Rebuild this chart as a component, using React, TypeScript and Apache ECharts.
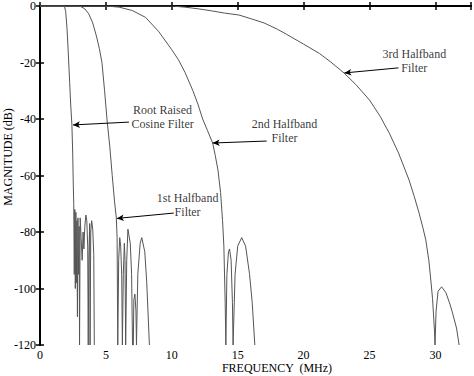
import React, { useEffect, useRef } from 'react';
import * as echarts from 'echarts';

// Root raised cosine filter
const rrcFreq = [0, 1.85, 1.95, 2.05, 2.15, 2.25, 2.33, 2.42, 2.48, 2.52, 2.56, 2.6, 2.64, 2.68, 2.72, 2.76, 2.8, 2.84, 2.88, 2.93, 2.97, 3.0, 3.05, 3.12, 3.2, 3.27, 3.33, 3.4, 3.48, 3.55, 3.62, 3.66, 3.7, 3.77, 3.8, 3.85, 3.92, 4.0, 4.08, 4.12];
const rrcMag = [0, 0, -2, -8, -17, -27, -35, -42, -52, -62, -70, -95, -72, -100, -73, -98, -76, -110, -75, -95, -78, -120, -75, -82, -90, -80, -86, -78, -74, -76, -85, -120, -90, -77, -120, -80, -76, -79, -88, -120];

// 1st halfband filter
const hb1Freq = [0, 2.8, 3.1, 3.4, 3.7, 4.0, 4.3, 4.5, 4.7, 4.9, 5.08, 5.3, 5.48, 5.65, 5.79, 5.85, 5.9, 5.92, 5.97, 6.05, 6.12, 6.2, 6.25, 6.27, 6.32, 6.4, 6.45, 6.5, 6.52, 6.58, 6.67, 6.85, 6.95, 7.02, 7.08, 7.12, 7.2, 7.28, 7.32, 7.35, 7.42, 7.6, 7.72, 7.95, 8.1, 8.3];
const hb1Mag = [0, 0, -0.2, -1, -2.8, -6, -11, -15, -20, -30, -40, -50, -60, -69, -75, -82, -120, -120, -90, -82, -85, -95, -120, -120, -95, -84, -90, -120, -120, -90, -79, -84, -95, -120, -120, -104, -102, -108, -120, -120, -95, -84, -82, -87, -98, -120];

// 2nd halfband filter
const hb2Freq = [0, 5.0, 6, 7, 8, 9, 10, 10.5, 11, 11.6, 12, 12.34, 12.7, 13.1, 13.3, 13.5, 13.7, 13.85, 13.95, 14.05, 14.1, 14.12, 14.18, 14.3, 14.38, 14.5, 14.6, 14.65, 14.68, 14.8, 15.0, 15.3, 15.6, 15.9, 16.1, 16.3];
const hb2Mag = [0, 0, -0.4, -1.6, -4, -9, -15.5, -19, -23.5, -30, -35, -40, -44, -48.5, -53, -58, -66, -76, -85, -105, -120, -120, -95, -87, -86, -90, -105, -120, -120, -95, -85, -82, -85, -95, -105, -120];

// 3rd halfband filter
const hb3Freq = [0, 10, 11, 12, 13, 14, 15.1, 16, 17, 18, 18.7, 20, 21.2, 22, 23.09, 24, 25, 25.8, 26.5, 27.2, 28, 28.4, 28.76, 29.05, 29.27, 29.5, 29.65, 29.78, 29.85, 29.93, 29.97, 30.0, 30.05, 30.2, 30.47, 30.8, 31.1, 31.3, 31.6, 31.8];
const hb3Mag = [0, 0, -0.4, -1, -1.7, -2.5, -3.2, -4.5, -6, -8.2, -10, -13.5, -16.8, -19.6, -23.8, -28, -33.3, -39, -45, -52, -61.6, -67.5, -73.3, -78.5, -82.8, -90, -97, -103.5, -108.7, -115, -120, -120, -108, -101, -99.4, -101.5, -105.5, -108.7, -114, -120];

// Annotations (data coordinates)
const noteTexts = ['Root Raised\nCosine Filter', '1st Halfband\nFilter', '2nd Halfband\nFilter', '3rd Halfband\nFilter'];
const noteX = [9.3, 11.2, 18.55, 28.4];
const noteY = [-39.3, -70.4, -44.3, -19.6];
const arrowFromX = [6.75, 10.15, 17.2, 27.2];
const arrowFromY = [-41.1, -73.3, -47.8, -21.9];
const arrowToX = [2.5, 5.83, 13.1, 23.09];
const arrowToY = [-42.1, -75.2, -48.5, -23.7];

const xTicks = [0, 5, 10, 15, 20, 25, 30];

const pairs = (xs: number[], ys: number[]) => xs.map((x, i) => [x, ys[i]]);

const FONT = '"Liberation Serif", "DejaVu Serif", serif';

export default function App() {
  const ref = useRef<HTMLDivElement>(null);
  useEffect(() => {
    if (!ref.current) return;
    const chart = echarts.init(ref.current, undefined, { renderer: 'svg' });
    const lineColor = '#555';
    const mkLine = (name: string, xs: number[], ys: number[]) => ({
      name,
      type: 'line',
      data: pairs(xs, ys),
      showSymbol: false,
      symbol: 'none',
      lineStyle: { color: lineColor, width: 1 },
      silent: true,
      z: 3,
    });
    const axisLine = { show: true, lineStyle: { color: '#000', width: 2 } };
    const axisTick = { show: true, inside: true, length: 4, lineStyle: { color: '#000', width: 1.5 } };
    chart.setOption({
      animation: false,
      grid: { left: 40, right: 2, top: 6, bottom: 31, containLabel: false },
      xAxis: [
        {
          type: 'value', min: 0, max: 32.7, interval: 5, position: 'bottom',
          axisLine, axisTick, splitLine: { show: false },
          axisLabel: {
            margin: 4, color: '#000', fontFamily: FONT, fontSize: 12,
            formatter: (v: number) => (xTicks.includes(Math.round(v * 1000) / 1000) ? String(v) : ''),
          },
        },
        {
          type: 'value', min: 0, max: 32.7, interval: 5, position: 'top',
          axisLine, axisTick, splitLine: { show: false }, axisLabel: { show: false },
        },
      ],
      yAxis: [
        {
          type: 'value', min: -120, max: 0, interval: 20, position: 'left',
          axisLine, axisTick, splitLine: { show: false },
          axisLabel: { margin: 4, color: '#000', fontFamily: FONT, fontSize: 12 },
        },
        {
          type: 'value', min: -120, max: 0, interval: 20, position: 'right',
          axisLine, axisTick, splitLine: { show: false }, axisLabel: { show: false },
        },
      ],
      graphic: [
        {
          type: 'text', x: 8, y: 157, rotation: Math.PI / 2,
          style: { text: 'MAGNITUDE (dB)', fill: '#000', font: `12px ${FONT}`, textAlign: 'center', textVerticalAlign: 'middle' },
        },
        {
          type: 'text', x: 277, y: 368,
          style: { text: 'FREQUENCY  (MHz)', fill: '#000', font: `12px ${FONT}`, textAlign: 'center', textVerticalAlign: 'middle' },
        },
      ],
      series: [
        mkLine('Root Raised Cosine Filter', rrcFreq, rrcMag),
        mkLine('1st Halfband Filter', hb1Freq, hb1Mag),
        mkLine('2nd Halfband Filter', hb2Freq, hb2Mag),
        mkLine('3rd Halfband Filter', hb3Freq, hb3Mag),
        {
          name: 'notes',
          type: 'scatter',
          symbolSize: 0,
          silent: true,
          data: noteTexts.map((t, i) => ({ value: [noteX[i], noteY[i]], text: t })),
          label: {
            show: true, position: 'inside', color: '#000', fontFamily: FONT, fontSize: 12,
            lineHeight: 14, align: 'center', verticalAlign: 'middle',
            formatter: (p: any) => p.data.text,
          },
          markLine: {
            silent: true,
            symbol: ['none', 'arrow'],
            symbolSize: [5, 7],
            label: { show: false },
            lineStyle: { color: '#000', width: 1, type: 'solid' },
            data: noteTexts.map((_, i) => [
              { coord: [arrowFromX[i], arrowFromY[i]] },
              { coord: [arrowToX[i], arrowToY[i]] },
            ]),
          },
          z: 5,
        },
      ],
    });
    return () => chart.dispose();
  }, []);
  return <div ref={ref} style={{ position: 'fixed', left: 0, top: 0, width: 474, height: 376, background: '#fff' }} />;
}
